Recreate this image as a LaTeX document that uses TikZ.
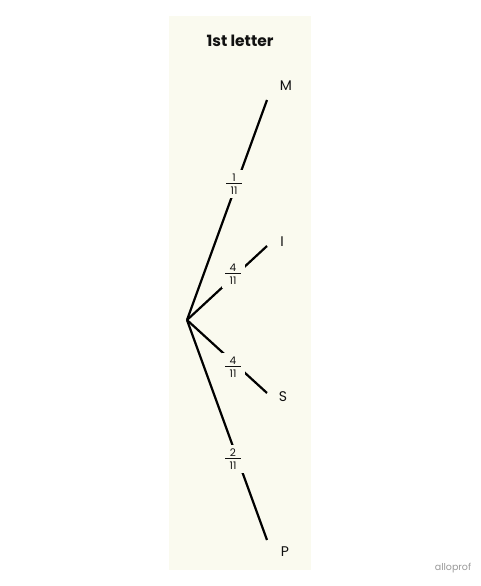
\documentclass[tikz,border=0pt]{standalone}
\usepackage{fontspec}
\setmainfont{Poppins}
\definecolor{panel}{HTML}{FAFAEF}
\definecolor{ink}{HTML}{111111}
\definecolor{logo}{HTML}{9A9A9A}
\newcommand\myfrac[2]{\vbox{\offinterlineskip\hbox to 16pt{\hss#1\hss}\kern2pt\hrule width 16pt height 1pt\kern2.4pt\hbox to 16pt{\hss#2\hss}}}
\tikzset{
  branch/.style={line width=2.2pt, draw=black},
  lbl/.style={font=\fontsize{14}{14}\selectfont, text=ink, inner sep=0pt},
  fracnode/.style={fill=panel, inner sep=3.5pt, font=\fontsize{10.5}{10.5}\selectfont, text=ink}
}
\begin{document}
\begin{tikzpicture}[x=1pt,y=-1pt]
\useasboundingbox (0,0) rectangle (480,586);
\fill[panel] (169,16) rectangle (311,570);
\node[font=\fontsize{15.5}{15.5}\selectfont\bfseries, text=ink, inner sep=0pt] (title) at (240,41) {1st letter};
\coordinate (root) at (187,320);
\coordinate (eM) at (267,100);
\coordinate (eI) at (267,246);
\coordinate (eS) at (267,393);
\coordinate (eP) at (267,540);
\draw[branch] (root) -- (eM);
\draw[branch] (root) -- (eI);
\draw[branch] (root) -- (eS);
\draw[branch] (root) -- (eP);
\node[fracnode] (fM) at (234,184) {\myfrac{1}{11}};
\node[fracnode] (fI) at (233,274) {\myfrac{4}{11}};
\node[fracnode] (fS) at (233,367) {\myfrac{4}{11}};
\node[fracnode] (fP) at (233,459) {\myfrac{2}{11}};
\node[lbl] (M) at (286,86) {M};
\node[lbl] (I) at (282,242) {I};
\node[lbl] (S) at (283,397) {S};
\node[lbl] (P) at (285,552) {P};
\node[font=\fontsize{9.5}{9.5}\selectfont, text=logo, inner sep=0pt] (logo) at (453,568) {alloprof};
\end{tikzpicture}
\end{document}
